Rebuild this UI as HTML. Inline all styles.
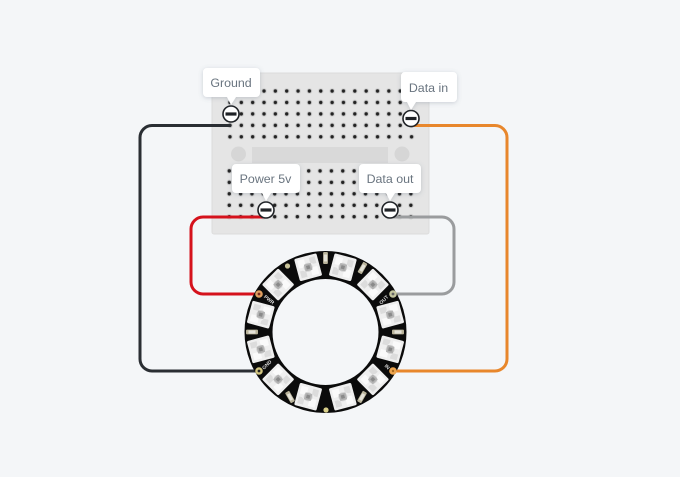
<!DOCTYPE html>
<html>
<head>
<meta charset="utf-8">
<style>
html,body{margin:0;padding:0;width:680px;height:477px;overflow:hidden;background:#f4f6f8}
svg{display:block}
text{font-family:"Liberation Sans",sans-serif}
.lbl{font-size:12.4px;fill:#69747f;text-anchor:middle}
.tiny{font-size:5px;fill:#ddd;text-anchor:middle;font-weight:bold}
.w{fill:none;stroke-width:3;stroke-linejoin:round}
</style>
</head>
<body>
<svg width="680" height="477" viewBox="0 0 680 477" xmlns="http://www.w3.org/2000/svg">
<defs>
<pattern id="h1" patternUnits="userSpaceOnUse" x="224.3" y="85.3" width="11.35" height="11.45">
<circle cx="5.67" cy="5.72" r="2.8" fill="#cfcfcf"/><circle cx="5.67" cy="5.72" r="1.7" fill="#222"/>
</pattern>
<pattern id="h2" patternUnits="userSpaceOnUse" x="223.6" y="165.2" width="11.35" height="11.45">
<circle cx="5.67" cy="5.72" r="2.8" fill="#cfcfcf"/><circle cx="5.67" cy="5.72" r="1.7" fill="#222"/>
</pattern>
<filter id="s" x="-30%" y="-30%" width="160%" height="170%"><feDropShadow dx="0" dy="1" stdDeviation="2.500" flood-color="#5a6a7a" flood-opacity=".28"/></filter>
<g id="led">
<rect x="-11.5" y="-11.5" width="23" height="23" rx="1.500" fill="#efefef"/>
<path d="M-9-9H-2V-4L-5-1H-9ZM9 9H2V4L5 1H9Z" fill="#fafafa"/>
<path d="M9-9H3V-4L6-2H9ZM-9 9H-3V4L-6 2H-9Z" fill="#dcdcdc"/>
<circle cx="0" cy="0" r="4.500" fill="#d4d4d4"/>
<rect x="-3.5" y="-3.5" width="7" height="7" fill="#b3b3b3"/>
<rect x="-1.8" y="-1.8" width="3.600" height="3.600" fill="#8a8a8a"/>
</g>
<g id="cap"><rect x="-2.4" y="-6" width="4.8" height="12" rx="1" fill="#b9b39a"/><rect x="-1.6" y="-3.5" width="3.2" height="7" fill="#e4e2d8"/></g>
<g id="m">
<circle r="8" fill="#fff" stroke="#1f2226" stroke-width="1.6"/>
<rect x="-5.5" y="-1.6" width="11" height="3.2" fill="#1f2226"/>
</g>
</defs>

<rect width="680" height="477" fill="#f4f6f8"/>

<!-- breadboard -->
<rect x="212" y="73" width="217" height="161" rx="2" fill="#e5e5e5" stroke="#dcdcdc"/>
<rect x="252" y="147" width="136" height="16" fill="#d9d9d9"/>
<circle cx="238.500" cy="154" r="7.500" fill="#d6d6d6"/>
<circle cx="402" cy="154" r="7.500" fill="#d6d6d6"/>
<rect x="224.300" y="85.300" width="193" height="57.200" fill="url(#h1)"/>
<rect x="223.600" y="165.200" width="193" height="57.200" fill="url(#h2)"/>

<!-- wires -->
<path class="w" stroke="#2a2e33" d="M231 125.500H152a12 12 0 0 0-12 12V359a12 12 0 0 0 12 12H258"/>
<path class="w" stroke="#e8872c" d="M411 125.500H495a12 12 0 0 1 12 12V359a12 12 0 0 1-12 12H393"/>
<path class="w" stroke="#d5121c" d="M266 217H203a12 12 0 0 0-12 12V282a12 12 0 0 0 12 12H259"/>
<path class="w" stroke="#9a9c9e" d="M390 217H442a12 12 0 0 1 12 12V282a12 12 0 0 1-12 12H393"/>

<!-- ring -->
<circle cx="325.500" cy="332" r="67" fill="none" stroke="#0b0b0b" stroke-width="28"/>
<use href="#led" transform="translate(325.500 332) rotate(15) translate(0 -67)"/>
<use href="#led" transform="translate(325.500 332) rotate(45) translate(0 -67)"/>
<use href="#led" transform="translate(325.500 332) rotate(75) translate(0 -67)"/>
<use href="#led" transform="translate(325.500 332) rotate(105) translate(0 -67)"/>
<use href="#led" transform="translate(325.500 332) rotate(135) translate(0 -67)"/>
<use href="#led" transform="translate(325.500 332) rotate(165) translate(0 -67)"/>
<use href="#led" transform="translate(325.500 332) rotate(195) translate(0 -67)"/>
<use href="#led" transform="translate(325.500 332) rotate(225) translate(0 -67)"/>
<use href="#led" transform="translate(325.500 332) rotate(255) translate(0 -67)"/>
<use href="#led" transform="translate(325.500 332) rotate(285) translate(0 -67)"/>
<use href="#led" transform="translate(325.500 332) rotate(315) translate(0 -67)"/>
<use href="#led" transform="translate(325.500 332) rotate(345) translate(0 -67)"/>
<use href="#cap" transform="translate(325.500 258)"/>
<use href="#cap" transform="translate(362.500 268) rotate(30)"/>
<use href="#cap" transform="translate(252 332) rotate(90)"/>
<use href="#cap" transform="translate(398 332) rotate(90)"/>
<use href="#cap" transform="translate(290 397) rotate(-30)"/>
<use href="#cap" transform="translate(362 397) rotate(30)"/>
<circle cx="287.500" cy="266" r="2.600" fill="#c9c49a"/>
<circle cx="326" cy="410" r="2.600" fill="#d8cf8a"/>
<circle cx="259" cy="294" r="3.800" fill="#e0a060"/><circle cx="259" cy="294" r="1.400" fill="#7a2a20"/>
<circle cx="393" cy="294" r="3.800" fill="#c4c6a0"/><circle cx="393" cy="294" r="1.400" fill="#666"/>
<circle cx="259" cy="371" r="3.800" fill="#d2c680"/><circle cx="259" cy="371" r="1.400" fill="#222"/>
<circle cx="393" cy="371" r="3.800" fill="#eda54f"/><circle cx="393" cy="371" r="1.200" fill="#a86a20"/>
<text class="tiny" transform="translate(268 301) rotate(40)">PWR</text>
<text class="tiny" transform="translate(385 301) rotate(-45)">OUT</text>
<text class="tiny" transform="translate(268 366) rotate(-45)">GND</text>
<text class="tiny" transform="translate(386 368) rotate(45)">IN</text>

<!-- markers -->
<use href="#m" x="231" y="114"/>
<use href="#m" x="411" y="118.500"/>
<use href="#m" x="266" y="210"/>
<use href="#m" x="390" y="210"/>

<!-- labels -->
<g filter="url(#s)">
<path d="M207 68H256a4 4 0 0 1 4 4V93a4 4 0 0 1-4 4H236L231 105L227 97H207a4 4 0 0 1-4-4V72a4 4 0 0 1 4-4Z" fill="#fff"/>
<path d="M405 72H453a4 4 0 0 1 4 4V98a4 4 0 0 1-4 4H416L411 110L407 102H405a4 4 0 0 1-4-4V76a4 4 0 0 1 4-4Z" fill="#fff"/>
<path d="M236 164H296a4 4 0 0 1 4 4V189a4 4 0 0 1-4 4H271L266 201L262 193H236a4 4 0 0 1-4-4V168a4 4 0 0 1 4-4Z" fill="#fff"/>
<path d="M363 164H417a4 4 0 0 1 4 4V189a4 4 0 0 1-4 4H395L390 201L386 193H363a4 4 0 0 1-4-4V168a4 4 0 0 1 4-4Z" fill="#fff"/>
</g>
<text class="lbl" x="231" y="87">Ground</text>
<text class="lbl" x="428.500" y="92">Data in</text>
<text class="lbl" x="265.500" y="183">Power 5v</text>
<text class="lbl" x="390" y="183">Data out</text>
</svg>
</body>
</html>
